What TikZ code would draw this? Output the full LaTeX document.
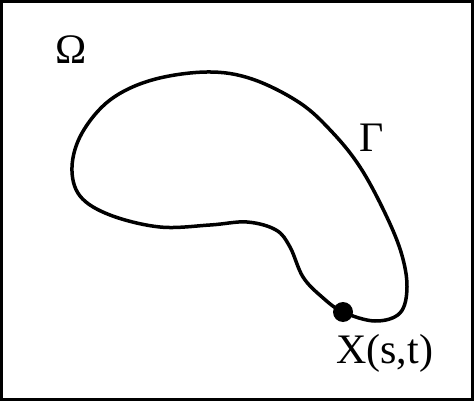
\documentclass[tikz,border=0pt]{standalone}
\usepackage{fontspec}
\setmainfont{Liberation Serif}
\tikzset{
    biglabel/.style={inner sep=0pt, font=\fontsize{42}{50}\selectfont},
    pointdot/.style={circle, fill=black, inner sep=0pt, minimum size=20pt}
}

\begin{document}
\begin{tikzpicture}[x=1pt, y=-1pt]
    \useasboundingbox (0,0) rectangle (474,401);
    \draw[line width=3pt] (1.5,1.5) rectangle (472.5,399.5);

    % the closed curve Gamma
    \draw[line width=3.5pt] plot[smooth cycle, tension=0.6] coordinates {
        (343,312) (375,321) (400,313) (407,287) (401,252) (384,211)
        (360,167) (333,133) (300,103) (252,79) (207,72) (152,80)
        (110,100) (82,133) (72,167) (80,196) (110,215) (160,227)
        (210,225) (247,222) (276,230) (290,247) (303,277) (322,297)
    };

    \node[pointdot] (xst) at (343,312) {};

    \node[biglabel, anchor=base] (omega) at (71,64) {Ω};
    \node[biglabel, anchor=base] (gamma) at (372,152) {Γ};
    \node[biglabel, anchor=base west] (pointlabel) at (336,363) {X(s,t)};
\end{tikzpicture}
\end{document}
